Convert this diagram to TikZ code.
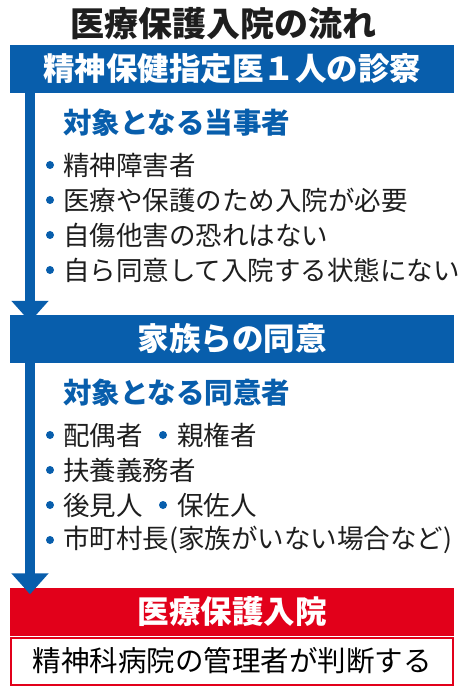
\documentclass[tikz,border=0pt]{standalone}
\usepackage{fontspec}
\setmainfont{Noto Sans CJK JP}
\usetikzlibrary{arrows.meta, positioning}

\definecolor{hoblue}{RGB}{8,94,172}
\definecolor{hored}{RGB}{226,0,26}
\definecolor{ink}{RGB}{30,30,30}

\begin{document}
\begin{tikzpicture}[
    x=1pt, y=-1pt,
    stage/.style={minimum width=444pt, minimum height=48pt, inner sep=0pt,
                  text=white, font=\fontsize{31.5}{32}\selectfont\bfseries},
    subhead/.style={anchor=west, inner sep=0pt, text=hoblue,
                    font=\fontsize{28.5}{29}\selectfont\bfseries},
    item/.style={anchor=west, inner sep=0pt, text=ink,
                 font=\fontsize{26.5}{27}\selectfont},
    dot/.style={fill=hoblue},
    flow/.style={line width=10pt, draw=hoblue,
                 -{Triangle[width=36pt, length=21pt]}}
  ]
  \useasboundingbox (0,0) rectangle (474,692);

  \node[text=ink, inner sep=0pt, font=\fontsize{34}{35}\selectfont\bfseries]
    (title) at (223,24) {医療保護入院の流れ};

  % Step 1
  \node[stage, fill=hoblue] (exam) at (232,69) {精神保健指定医１人の診察};
  \node[subhead] (sub1) at (63,123) {対象となる当事者};
  \foreach \t [count=\i from 0] in {精神障害者, 医療や保護のため入院が必要,
      自傷他害の恐れはない, 自ら同意して入院する状態にない} {
    \fill[dot] (50,{165+\i*35}) circle (4);
    \node[item] (p\i) at (63,{165+\i*35}) {\t};
  }

  % Step 2
  \node[stage, fill=hoblue] (consent) at (232,339) {家族らの同意};
  \node[subhead] (sub2) at (63,393) {対象となる同意者};
  \fill[dot] (50,435) circle (4);
  \node[item] (c0) at (63,435) {配偶者};
  \fill[dot] (163,435) circle (4);
  \node[item] (c1) at (177,435) {親権者};
  \fill[dot] (50,470) circle (4);
  \node[item] (c2) at (63,470) {扶養義務者};
  \fill[dot] (50,505) circle (4);
  \node[item] (c3) at (63,505) {後見人};
  \fill[dot] (163,505) circle (4);
  \node[item] (c4) at (177,505) {保佐人};
  \fill[dot] (50,540) circle (4);
  \node[item] (c5) at (63,540) {市町村長(家族がいない場合など)};

  % Step 3
  \node[stage, fill=hored] (admit) at (232,611.5) {医療保護入院};
  \node[draw=hored, line width=2pt, minimum width=442pt, minimum height=47pt,
        inner sep=0pt, text=black, font=\fontsize{28.5}{29}\selectfont,
        below=1pt of admit] (judge) {精神科病院の管理者が判断する};

  % connectors
  \coordinate (s1) at (30,93);
  \coordinate (s2) at (30,363);
  \coordinate (t1) at ([yshift=-7pt]s1 |- consent.north);
  \coordinate (t2) at ([yshift=-7pt]s2 |- admit.north);
  \draw[flow] (s1) -- (t1);
  \draw[flow] (s2) -- (t2);
\end{tikzpicture}
\end{document}
